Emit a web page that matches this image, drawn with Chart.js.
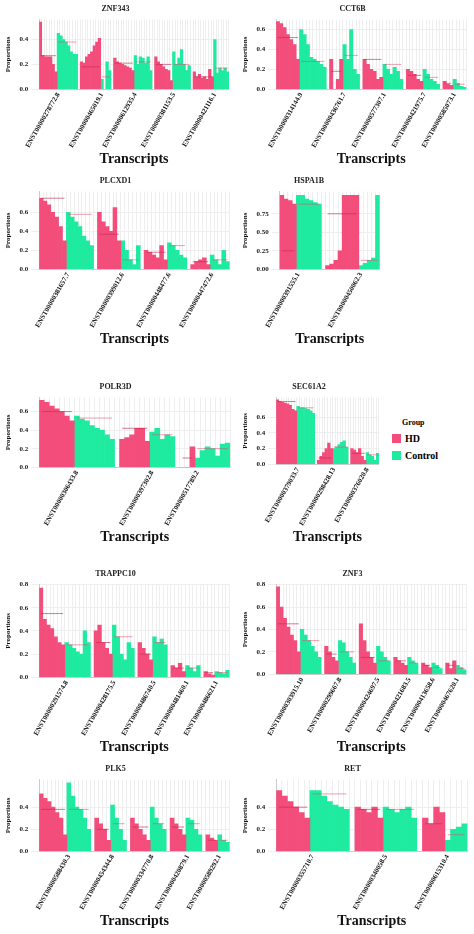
<!DOCTYPE html>
<html><head><meta charset="utf-8">
<script src="https://cdn.jsdelivr.net/npm/chart.js@4"></script>
<style>
body{margin:0;background:#fff;width:474px;height:934px;position:relative;overflow:hidden;font-family:"Liberation Serif",serif}
.p{position:absolute}
#leg{position:absolute;left:392px;top:418px;font-size:8px;font-weight:bold}
#leg div{display:flex;align-items:center;margin-top:6px;font-size:10px}
#leg span{display:inline-block;width:9px;height:9px;margin-right:4px}
</style></head><body>
<div id="leg">&nbsp;&nbsp;&nbsp;&nbsp;&nbsp;Group<div><span style="background:#F34E7B"></span>HD</div><div><span style="background:#1EEAA0"></span>Control</div></div>
<script>
const HD_COLOR='#F34E7B', CT_COLOR='#1EEAA0';
// ---- data ----
const znf343_tx=['ENST00000278772.8','ENST00000465019.1','ENST00000612935.4','ENST00000381153.5','ENST00000421116.1'];
const znf343_hd=[[0.54,0.27,0.26,0.26,0.26,0.2,0.14],[0.22,0.21,0.26,0.28,0.3,0.35,0.38,0.41],[0.25,0.22,0.21,0.2,0.19,0.18,0.17,0.15],[0.26,0.22,0.2,0.18,0.16,0.15,0.07],[0.14,0.1,0.12,0.09,0.1,0.08,0.16,0.1]];
const znf343_ct=[[0.45,0.43,0.4,0.38,0.35,0.3,0.28,0.28],[0.08,0,0.22,0.15],[0.27,0.2,0.26,0.25,0.21,0.26,0.15],[0.3,0.2,0.25,0.32,0.2,0.15,0.19],[0.4,0.13,0.17,0.15,0.17,0.14]];
const znf343_mhd=[0.27,0.18,0.21,0.2,0.1], znf343_mct=[0.38,0.1,0.22,0.2,0.17];

const cct6b_tx=['ENST00000314144.9','ENST00000436761.7','ENST00000577307.1','ENST00000421975.7','ENST00000585073.1'];
const cct6b_hd=[[0.68,0.66,0.62,0.55,0.5,0.45,0.3],[0.3,0,0.1,0.3],[0.3,0.25,0.2,0.18,0.1,0.12],[0.2,0.18,0.15,0.1,0.08],[0.08,0.05,0.04]];
const cct6b_ct=[[0.6,0.55,0.45,0.32,0.3,0.28,0.25,0.22],[0.45,0.3,0.6,0.2,0.15],[0.25,0.2,0.15,0.22,0.18,0.1],[0.2,0.15,0.1,0.08,0.05],[0.1,0.06,0.03,0.02]];
const cct6b_mhd=[0.52,0.18,0.3,0.14,0.06], cct6b_mct=[0.28,0.34,0.25,0.12,0.05];

const plcxd1_tx=['ENST00000381657.7','ENST00000399012.6','ENST00000448477.6','ENST00000447472.6'];
const plcxd1_hd=[[0.75,0.72,0.68,0.6,0.55,0.45,0.3],[0.6,0.5,0.45,0.4,0.65,0.3],[0.2,0.18,0.15,0.12,0.25,0.1],[0.05,0.08,0.1,0.12,0.05]];
const plcxd1_ct=[[0.6,0.55,0.5,0.45,0.35,0.3,0.25],[0.3,0.2,0.1,0.05,0.25],[0.28,0.25,0.2,0.15,0.12],[0.15,0.1,0.05,0.2,0.08]];
const plcxd1_mhd=[0.75,0.37,0.18,0.08], plcxd1_mct=[0.58,0.1,0.25,0.1];

const hspa1b_tx=['ENST00000391555.1','ENST00000450062.3'];
const hspa1b_hd=[[1,0.95,0.93,0.88],[0.05,0.07,0.12,0.25,1,1,1,1]];
const hspa1b_ct=[[1,1,0.95,0.93,0.9,0.88],[0.05,0.08,0.12,0.15,1]];
const hspa1b_mhd=[0.25,0.75], hspa1b_mct=[0.88,0.12];

const polr3d_tx=['ENST00000306433.8','ENST00000397302.8','ENST00000517789.2'];
const polr3d_hd=[[0.72,0.7,0.66,0.63,0.6,0.55,0.5],[0.3,0.32,0.35,0.42,0.42,0.28],[0,0,0.22]];
const polr3d_ct=[[0.55,0.52,0.5,0.45,0.42,0.4,0.35,0.3],[0.38,0.42,0.3,0.35,0.33],[0.1,0.18,0.22,0.2,0.12,0.25,0.26]];
const polr3d_mhd=[0.6,0.42,0.1], polr3d_mct=[0.53,0.35,0.2];

const sec61a2_tx=['ENST00000379033.7','ENST00000298428.13','ENST00000376020.8'];
const sec61a2_hd=[[0.82,0.8,0.79,0.78,0.77,0.75,0.7,0.68],[0.05,0.1,0.15,0.2,0.27,0.2],[0.2,0.18,0.15,0.2,0.1,0.05]];
const sec61a2_ct=[[0.74,0.72,0.72,0.71,0.7,0.68,0.65],[0.2,0.22,0.25,0.28,0.3,0.22],[0.15,0.12,0.1,0.05,0.14]];
const sec61a2_mhd=[0.8,0.08,0.14], sec61a2_mct=[0.72,0.22,0.12];

const trappc10_tx=['ENST00000291574.8','ENST00000428175.5','ENST00000486740.5','ENST00000481460.1','ENST00000486621.1'];
const trappc10_hd=[[0.77,0.5,0.45,0.42,0.35,0.3,0.28],[0.4,0.45,0.3,0.25,0.2],[0.3,0.25,0.2,0.15],[0.1,0.08,0.12,0.05],[0.05,0.03,0.02]];
const trappc10_ct=[[0.3,0.28,0.25,0.22,0.2,0.4,0.3],[0.45,0.35,0.2,0.15,0.3,0.25],[0.35,0.3,0.33,0.28],[0.1,0.08,0.05,0.1],[0.05,0.04,0.03,0.06]];
const trappc10_mhd=[0.55,0.3,0.2,0.08,0.04], trappc10_mct=[0.28,0.35,0.3,0.08,0.04];

const znf3_tx=['ENST00000303915.10','ENST00000299667.8','ENST00000424697.5','ENST00000421683.5','ENST00000413658.6','ENST00000467620.1'];
const znf3_hd=[[0.78,0.6,0.5,0.42,0.35,0.3,0.2],[0.25,0.2,0.15,0.12],[0.45,0.3,0.2,0.15,0.1],[0.15,0.12,0.1,0.08],[0.1,0.08,0.06],[0.1,0.05,0.12]];
const znf3_ct=[[0.4,0.35,0.3,0.25,0.2,0.15],[0.3,0.28,0.2,0.15,0.1],[0.25,0.2,0.15,0.12],[0.15,0.12,0.1],[0.1,0.08,0.05],[0.08,0.06,0.04]];
const znf3_mhd=[0.45,0.18,0.15,0.12,0.08,0.08], znf3_mct=[0.3,0.2,0.12,0.1,0.06,0.05];

const plk5_tx=['ENST00000588430.3','ENST00000454344.8','ENST00000334770.8','ENST00000420879.1','ENST00000589292.1'];
const plk5_hd=[[0.52,0.48,0.45,0.4,0.35,0.3,0.15],[0.3,0.25,0.2,0.1],[0.3,0.25,0.2,0.15,0.1],[0.3,0.25,0.2,0.15],[0.15,0.12,0.1]];
const plk5_ct=[[0.62,0.5,0.4,0.38,0.3,0.2],[0.42,0.3,0.2,0.1],[0.4,0.3,0.25,0.2],[0.3,0.28,0.2,0.15],[0.15,0.1,0.08]];
const plk5_mhd=[0.38,0.2,0.22,0.22,0.1], plk5_mct=[0.38,0.25,0.25,0.25,0.1];

const ret_tx=['ENST00000355710.7','ENST00000340058.5','ENST00000615310.4'];
const ret_hd=[[0.55,0.5,0.45,0.4,0.35,0.3],[0.4,0.38,0.35,0.4,0.3],[0.3,0.25,0.4,0.35]];
const ret_ct=[[0.55,0.55,0.5,0.45,0.42,0.4,0.38],[0.4,0.38,0.35,0.38,0.4,0.3],[0.1,0.2,0.22,0.25]];
const ret_mhd=[0.4,0.38,0.25], ret_mct=[0.52,0.38,0.15];

const panels=[
 ['ZNF343',znf343_tx,znf343_hd,znf343_ct,znf343_mhd,znf343_mct,0.56,0.2,[0,0,237,172]],
 ['CCT6B',cct6b_tx,cct6b_hd,cct6b_ct,cct6b_mhd,cct6b_mct,0.7,0.2,[237,0,237,172]],
 ['PLCXD1',plcxd1_tx,plcxd1_hd,plcxd1_ct,plcxd1_mhd,plcxd1_mct,0.82,0.2,[0,172,237,180]],
 ['HSPA1B',hspa1b_tx,hspa1b_hd,hspa1b_ct,hspa1b_mhd,hspa1b_mct,1.05,0.25,[237,172,150,180]],
 ['POLR3D',polr3d_tx,polr3d_hd,polr3d_ct,polr3d_mhd,polr3d_mct,0.75,0.2,[0,378,237,172]],
 ['SEC61A2',sec61a2_tx,sec61a2_hd,sec61a2_ct,sec61a2_mhd,sec61a2_mct,0.85,0.2,[237,378,150,172]],
 ['TRAPPC10',trappc10_tx,trappc10_hd,trappc10_ct,trappc10_mhd,trappc10_mct,0.8,0.2,[0,565,237,195]],
 ['ZNF3',znf3_tx,znf3_hd,znf3_ct,znf3_mhd,znf3_mct,0.8,0.2,[237,565,237,195]],
 ['PLK5',plk5_tx,plk5_hd,plk5_ct,plk5_mhd,plk5_mct,0.65,0.2,[0,760,237,174]],
 ['RET',ret_tx,ret_hd,ret_ct,ret_mhd,ret_mct,0.65,0.2,[237,760,237,174]]
];
const serif='"Liberation Serif", serif';
panels.forEach(([name,tx,hd,ct,mhd,mct,ymax,step,pos])=>{
  const d=document.createElement('div');d.className='p';
  d.style.cssText=`left:${pos[0]}px;top:${pos[1]}px;width:${pos[2]}px;height:${pos[3]}px`;
  const c=document.createElement('canvas');d.appendChild(c);document.body.appendChild(d);
  const labels=[],hdD=[],ctD=[],mh=[],mc=[],tickAt={};
  tx.forEach((t,i)=>{
    if(i>0){labels.push('');hdD.push(null);ctD.push(null);mh.push(null);mc.push(null);}
    hd[i].forEach(v=>{labels.push('');hdD.push(v);ctD.push(null);mh.push(mhd[i]);mc.push(null);});
    tickAt[labels.length]=t;
    ct[i].forEach(v=>{labels.push('');hdD.push(null);ctD.push(v);mh.push(null);mc.push(mct[i]);});
  });
  new Chart(c,{data:{labels,datasets:[
    {type:'line',data:mh,borderColor:'rgba(200,40,80,0.8)',borderWidth:0.8,pointRadius:0,spanGaps:false},
    {type:'line',data:mc,borderColor:'rgba(220,80,110,0.7)',borderWidth:0.8,pointRadius:0,spanGaps:false},
    {type:'bar',data:hdD,backgroundColor:HD_COLOR,barPercentage:1,categoryPercentage:1,grouped:false},
    {type:'bar',data:ctD,backgroundColor:CT_COLOR,barPercentage:1,categoryPercentage:1,grouped:false}
  ]},options:{responsive:true,maintainAspectRatio:false,animation:false,
    layout:{padding:{right:6}},
    plugins:{legend:{display:false},tooltip:{enabled:false},
      title:{display:true,text:name,font:{family:serif,size:8,weight:'bold'},color:'#222',padding:{top:4,bottom:6}}},
    scales:{
      x:{offset:true,grid:{color:'#eee',drawTicks:false},border:{color:'#ccc'},
        ticks:{autoSkip:false,maxRotation:60,minRotation:60,padding:2,font:{family:serif,size:7,weight:'bold'},color:'#111',
          callback:(v,i)=>tickAt[i]||''},
        title:{display:true,text:'Transcripts',font:{family:serif,size:14,weight:'bold'},color:'#111',padding:{top:0}}},
      y:{min:0,max:ymax,grid:{color:'#eee'},border:{color:'#ccc'},
        afterBuildTicks:ax=>{ax.ticks=ax.ticks.filter(t=>Math.abs(t.value/step-Math.round(t.value/step))<1e-6);},
        ticks:{stepSize:step,font:{family:serif,size:7,weight:'bold'},color:'#222',callback:v=>step===0.25?v.toFixed(2):v.toFixed(1)},
        title:{display:true,text:'Proportions',font:{family:serif,size:7,weight:'bold'},color:'#111'}}
    }}});
});
</script></body></html>
